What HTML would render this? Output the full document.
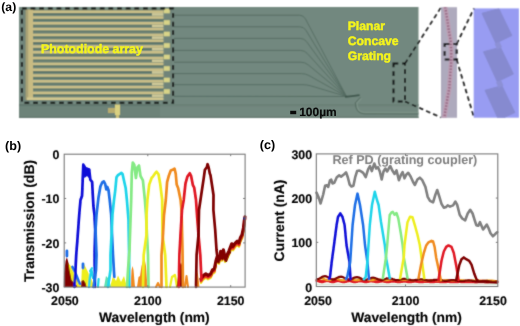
<!DOCTYPE html>
<html><head><meta charset="utf-8"><title>Figure</title>
<style>
html,body{margin:0;padding:0;background:#fff;}
body{width:520px;height:326px;overflow:hidden;}
svg{display:block;font-family:'Liberation Sans', Arial, sans-serif;text-rendering:geometricPrecision;}
</style></head>
<body><svg width="520" height="326" viewBox="0 0 520 326">
<defs><filter id="blm" x="-2%" y="-2%" width="104%" height="104%"><feConvolveMatrix order="3" kernelMatrix="0.04 0.12 0.04 0.12 0.36 0.12 0.04 0.12 0.04" edgeMode="none"/></filter><filter id="blp" x="-2%" y="-2%" width="104%" height="104%"><feConvolveMatrix order="3" kernelMatrix="0.02 0.08 0.02 0.08 0.6 0.08 0.02 0.08 0.02" edgeMode="none"/></filter></defs><rect width="520" height="326" fill="#fff"/>
<g filter="url(#blm)"><rect x="19" y="7" width="399.5" height="111" fill="#72887f"/><rect x="19" y="104" width="141" height="2.4" fill="#62776d"/><rect x="19" y="106.4" width="141" height="11" fill="#6d8379"/><rect x="160" y="104" width="258.5" height="2.4" fill="#6b8177"/><rect x="19" y="116.8" width="399.5" height="1.2" fill="#63776d"/><rect x="23" y="9.5" width="149" height="92" fill="#6f8479"/><rect x="25.6" y="9.5" width="2.6" height="90.5" fill="#a8a174"/><rect x="28.1" y="9.5" width="5" height="90.5" fill="#c8bb82"/><rect x="33" y="9.5" width="130.5" height="90" fill="#6a8274"/><rect x="33" y="13.00" width="130.5" height="2.1" fill="#5e776a"/><rect x="33" y="15.10" width="130.5" height="1.1" fill="#71877b"/><rect x="33" y="10.40" width="130.5" height="2.6" fill="#cbbf88"/><rect x="152" y="13.10" width="11.5" height="2.6" fill="#cfc999"/><rect x="33" y="18.80" width="130.5" height="2.1" fill="#5e776a"/><rect x="33" y="20.90" width="130.5" height="1.1" fill="#71877b"/><rect x="33" y="16.20" width="130.5" height="2.6" fill="#cbbf88"/><rect x="33" y="24.60" width="130.5" height="2.1" fill="#5e776a"/><rect x="33" y="26.70" width="130.5" height="1.1" fill="#71877b"/><rect x="33" y="22.00" width="130.5" height="2.6" fill="#cbbf88"/><rect x="152" y="24.70" width="11.5" height="2.6" fill="#cfc999"/><rect x="33" y="30.40" width="130.5" height="2.1" fill="#5e776a"/><rect x="33" y="32.50" width="130.5" height="1.1" fill="#71877b"/><rect x="33" y="27.80" width="130.5" height="2.6" fill="#cbbf88"/><rect x="33" y="36.20" width="130.5" height="2.1" fill="#5e776a"/><rect x="33" y="38.30" width="130.5" height="1.1" fill="#71877b"/><rect x="33" y="33.60" width="130.5" height="2.6" fill="#cbbf88"/><rect x="152" y="36.30" width="11.5" height="2.6" fill="#cfc999"/><rect x="33" y="42.00" width="130.5" height="2.1" fill="#5e776a"/><rect x="33" y="44.10" width="130.5" height="1.1" fill="#71877b"/><rect x="33" y="39.40" width="130.5" height="2.6" fill="#cbbf88"/><rect x="33" y="47.80" width="130.5" height="2.1" fill="#5e776a"/><rect x="33" y="49.90" width="130.5" height="1.1" fill="#71877b"/><rect x="33" y="45.20" width="130.5" height="2.6" fill="#cbbf88"/><rect x="152" y="47.90" width="11.5" height="2.6" fill="#cfc999"/><rect x="33" y="53.60" width="130.5" height="2.1" fill="#5e776a"/><rect x="33" y="55.70" width="130.5" height="1.1" fill="#71877b"/><rect x="33" y="51.00" width="130.5" height="2.6" fill="#cbbf88"/><rect x="33" y="59.40" width="130.5" height="2.1" fill="#5e776a"/><rect x="33" y="61.50" width="130.5" height="1.1" fill="#71877b"/><rect x="33" y="56.80" width="130.5" height="2.6" fill="#cbbf88"/><rect x="152" y="59.50" width="11.5" height="2.6" fill="#cfc999"/><rect x="33" y="65.20" width="130.5" height="2.1" fill="#5e776a"/><rect x="33" y="67.30" width="130.5" height="1.1" fill="#71877b"/><rect x="33" y="62.60" width="130.5" height="2.6" fill="#cbbf88"/><rect x="33" y="71.00" width="130.5" height="2.1" fill="#5e776a"/><rect x="33" y="73.10" width="130.5" height="1.1" fill="#71877b"/><rect x="33" y="68.40" width="130.5" height="2.6" fill="#cbbf88"/><rect x="152" y="71.10" width="11.5" height="2.6" fill="#cfc999"/><rect x="33" y="76.80" width="130.5" height="2.1" fill="#5e776a"/><rect x="33" y="78.90" width="130.5" height="1.1" fill="#71877b"/><rect x="33" y="74.20" width="130.5" height="2.6" fill="#cbbf88"/><rect x="33" y="82.60" width="130.5" height="2.1" fill="#5e776a"/><rect x="33" y="84.70" width="130.5" height="1.1" fill="#71877b"/><rect x="33" y="80.00" width="130.5" height="2.6" fill="#cbbf88"/><rect x="152" y="82.70" width="11.5" height="2.6" fill="#cfc999"/><rect x="33" y="88.40" width="130.5" height="2.1" fill="#5e776a"/><rect x="33" y="90.50" width="130.5" height="1.1" fill="#71877b"/><rect x="33" y="85.80" width="130.5" height="2.6" fill="#cbbf88"/><rect x="33" y="94.20" width="130.5" height="2.1" fill="#5e776a"/><rect x="33" y="96.30" width="130.5" height="1.1" fill="#71877b"/><rect x="33" y="91.60" width="130.5" height="2.6" fill="#cbbf88"/><rect x="152" y="94.30" width="11.5" height="2.6" fill="#cfc999"/><rect x="27" y="97.40" width="136.5" height="2.6" fill="#d2c890"/><rect x="163.8" y="8.70" width="6" height="4.6" fill="#d8d488"/><rect x="163.8" y="20.20" width="6" height="4.6" fill="#d8d488"/><rect x="163.8" y="31.70" width="6" height="4.6" fill="#d8d488"/><rect x="163.8" y="43.20" width="6" height="4.6" fill="#d8d488"/><rect x="163.8" y="54.70" width="6" height="4.6" fill="#d8d488"/><rect x="163.8" y="66.20" width="6" height="4.6" fill="#d8d488"/><rect x="163.8" y="77.70" width="6" height="4.6" fill="#d8d488"/><rect x="163.8" y="89.20" width="6" height="4.6" fill="#d8d488"/><rect x="108" y="108" width="7" height="5" fill="#b8ac6e"/><rect x="115" y="104.5" width="5" height="10.5" fill="#d9d080"/><rect x="116" y="115" width="3" height="3" fill="#c9bf78"/><path d="M174 15.2 L299.5 15.2 Q303.5 15.2 305.37 18.74 L346.5 96.5" stroke="#526a60" stroke-width="0.9" fill="none"/><path d="M174 26.8 L299.8 26.8 Q303.8 26.8 305.89 30.21 L346.5 96.5" stroke="#526a60" stroke-width="0.9" fill="none"/><path d="M174 38.4 L300.2 38.4 Q304.2 38.4 306.55 41.63 L346.5 96.5" stroke="#526a60" stroke-width="0.9" fill="none"/><path d="M174 50.4 L300.5 50.4 Q304.5 50.4 307.19 53.36 L346.5 96.5" stroke="#526a60" stroke-width="0.9" fill="none"/><path d="M174 62.2 L301 62.2 Q305 62.2 308.08 64.75 L346.5 96.5" stroke="#526a60" stroke-width="0.9" fill="none"/><path d="M174 73.6 L301.5 73.6 Q305.5 73.6 308.99 75.55 L346.5 96.5" stroke="#526a60" stroke-width="0.9" fill="none"/><path d="M174 84.7 L303 84.7 Q307 84.7 310.83 85.84 L346.5 96.5" stroke="#526a60" stroke-width="0.9" fill="none"/><path d="M174 96.3 L346.5 96.5" stroke="#526a60" stroke-width="0.9" fill="none"/><path d="M345 96.8 Q352 96.5 359.6 95.2" stroke="#3b5248" stroke-width="1.8" fill="none"/><path d="M360.4 97.2 L355.3 102.8 Q355.6 108.5 357.5 110.8 Q359.5 113.3 364 113.8 L418.5 113.9" stroke="#53695e" stroke-width="1" fill="none"/><path d="M361.5 98.6 L357 103.3 Q357.2 108 358.8 110 Q360.5 112.2 364.5 112.6 L418.5 112.7" stroke="#849a8e" stroke-width="0.8" fill="none"/><rect x="21.9" y="8.5" width="151.2" height="94.2" stroke="#0a0a0a" stroke-width="2" fill="none" stroke-dasharray="4.8 3.85"/><rect x="393.5" y="63.5" width="11.5" height="38" stroke="#0a0a0a" stroke-width="2" fill="none" stroke-dasharray="4.8 3.85" stroke-dasharray="4.5 3.5"/><rect x="441" y="7.2" width="16" height="110.6" fill="#aeaabd"/><clipPath id="sc"><rect x="441" y="7.2" width="16" height="110.6"/></clipPath><g clip-path="url(#sc)"><polyline points="445.2,7.0 447.0,18.0 449.0,31.6 450.5,40.0 451.2,50.0 451.2,62.0 450.2,75.0 449.3,88.0 446.3,105.0 444.3,117.5" fill="none" stroke="#bc9fb4" stroke-width="4.8" stroke-linejoin="round" stroke-linecap="round" /><polyline points="445.2,7.0 447,18 449,31.6 450.5,40 451.2,50 451.2,62 450.2,75 449.3,88 446.3,105 444.3,117.5" fill="none" stroke="#93637f" stroke-width="2.4" stroke-dasharray="1.4 1.7"/></g><rect x="444.6" y="44" width="12" height="15.5" stroke="#0a0a0a" stroke-width="2" fill="none" stroke-dasharray="4.8 3.85" stroke-dasharray="4 3"/><rect x="473.7" y="8.4" width="45.2" height="109.3" fill="#989cf2"/><clipPath id="bc"><rect x="473.7" y="8.4" width="45.2" height="109.3"/></clipPath><g clip-path="url(#bc)" fill="#8487cc"><polygon points="482.0,13.3 498.9,8.7 511.9,35.5 495.8,43.2" fill="#868ad0" stroke="#868ad0" stroke-width="1" stroke-linejoin="round"/><polygon points="483.5,51.8 500.4,47.2 513.4,74.0 497.3,81.7" fill="#868ad0" stroke="#868ad0" stroke-width="1" stroke-linejoin="round"/><polygon points="485.0,90.3 501.9,85.7 514.9,112.5 498.8,120.2" fill="#868ad0" stroke="#868ad0" stroke-width="1" stroke-linejoin="round"/><polygon points="494.5,43.8 499.5,41.5 502.0,47.0 497.0,49.5" fill="#8c90d6" /><polygon points="496.0,82.3 501.0,80.0 503.5,85.5 498.5,88.0" fill="#8c90d6" /></g><line x1="405" y1="63.5" x2="441" y2="7.5" stroke="#0a0a0a" stroke-width="1.6" stroke-dasharray="4.5 3.2" fill="none"/><line x1="405" y1="101.5" x2="441" y2="117.5" stroke="#0a0a0a" stroke-width="1.6" stroke-dasharray="4.5 3.2" fill="none"/><line x1="456.6" y1="44" x2="474" y2="8.5" stroke="#0a0a0a" stroke-width="1.6" stroke-dasharray="4.5 3.2" fill="none"/><line x1="456.6" y1="59.5" x2="474" y2="117.5" stroke="#0a0a0a" stroke-width="1.6" stroke-dasharray="4.5 3.2" fill="none"/></g><text x="41.0" y="52.8" font-size="12.4" fill="#f4f41c" text-anchor="start" font-weight="bold" stroke="#f4f41c" stroke-width="0.45">Photodiode array</text><text x="347.7" y="29.9" font-size="12.2" fill="#f4f41c" text-anchor="start" font-weight="bold" stroke="#f4f41c" stroke-width="0.45">Planar</text><text x="347.7" y="45" font-size="12.2" fill="#f4f41c" text-anchor="start" font-weight="bold" stroke="#f4f41c" stroke-width="0.45">Concave</text><text x="347.7" y="59.7" font-size="12.2" fill="#f4f41c" text-anchor="start" font-weight="bold" stroke="#f4f41c" stroke-width="0.45">Grating</text><rect x="290.2" y="110.8" width="6" height="3.4" fill="#0a0a0a"/><text x="299.2" y="115.6" font-size="12" fill="#0a0a0a" text-anchor="start" font-weight="bold" stroke="#0a0a0a" stroke-width="0.15">100µm</text><text x="1.3" y="11.4" font-size="12.2" fill="#000" text-anchor="start" font-weight="bold">(a)</text><text x="5.0" y="149.8" font-size="12.6" fill="#000" text-anchor="start" font-weight="bold">(b)</text><text x="259.8" y="149.4" font-size="12.6" fill="#000" text-anchor="start" font-weight="bold">(c)</text><g filter="url(#blp)"><text x="59.4" y="158.9" font-size="12.4" fill="#000" text-anchor="end" font-weight="bold" stroke="#000" stroke-width="0.15">0</text><text x="59.4" y="203.35" font-size="12.4" fill="#000" text-anchor="end" font-weight="bold" stroke="#000" stroke-width="0.15">-10</text><text x="59.4" y="247.8" font-size="12.4" fill="#000" text-anchor="end" font-weight="bold" stroke="#000" stroke-width="0.15">-20</text><text x="59.4" y="292.25" font-size="12.4" fill="#000" text-anchor="end" font-weight="bold" stroke="#000" stroke-width="0.15">-30</text><text x="64.9" y="305.1" font-size="12.4" fill="#000" text-anchor="middle" font-weight="bold" stroke="#000" stroke-width="0.15">2050</text><text x="147.8" y="305.1" font-size="12.4" fill="#000" text-anchor="middle" font-weight="bold" stroke="#000" stroke-width="0.15">2100</text><text x="230.7" y="305.1" font-size="12.4" fill="#000" text-anchor="middle" font-weight="bold" stroke="#000" stroke-width="0.15">2150</text><text x="154.4" y="321.6" font-size="13.8" fill="#000" text-anchor="middle" font-weight="bold" stroke="#000" stroke-width="0.15">Wavelength (nm)</text><text x="0" y="0" font-size="14.0" fill="#000" text-anchor="middle" font-weight="bold" stroke="#000" stroke-width="0.15" transform="translate(33.8 220.9) rotate(-90)">Transmission (dB)</text><polygon points="66.0,287.0 68.0,263.0 71.0,266.0 74.0,272.0 77.0,278.0 80.0,283.0 82.0,287.0" fill="#eeee1e" /><polygon points="81.0,287.0 82.0,266.0 84.0,264.0 86.0,268.0 89.0,274.0 92.0,280.0 94.0,287.0" fill="#eeee1e" /><polygon points="110.0,287.0 113.0,276.0 116.0,281.0 118.0,275.5 121.0,282.0 124.0,276.0 127.0,287.0" fill="#eeee1e" /><polygon points="104.0,287.0 106.0,276.0 109.0,279.0 111.0,287.0" fill="#5ee0b0" /><polyline points="89.0,287.0 90.0,276.0 91.4,270.0 93.0,278.0" fill="none" stroke="#1ed4ea" stroke-width="2.4" stroke-linejoin="round" stroke-linecap="round" /><polyline points="98.0,287.0 98.6,279.0" fill="none" stroke="#1ed4ea" stroke-width="2.2" stroke-linejoin="round" stroke-linecap="round" /><polyline points="90.0,271.0 92.0,268.0" fill="none" stroke="#1ed4ea" stroke-width="2" stroke-linejoin="round" stroke-linecap="round" /><polygon points="63.8,287.0 64.0,274.0 65.5,261.0 66.9,257.0 68.5,263.0 69.5,270.0 71.5,279.9 74.0,283.0 76.1,284.5 77.5,287.0" fill="#820000" /><polygon points="81.0,287.0 81.5,281.0 83.5,280.0 85.5,283.0 86.5,287.0" fill="#820000" /><polygon points="131.0,287.0 131.5,283.0 133.0,282.5 134.5,287.0" fill="#820000" /><polyline points="66.9,251.0 66.9,256.0" fill="none" stroke="#1a6ee6" stroke-width="2.8" stroke-linejoin="round" stroke-linecap="round" /><polyline points="83.0,263.8 83.0,268.0" fill="none" stroke="#1a6ee6" stroke-width="2.8" stroke-linejoin="round" stroke-linecap="round" /><polyline points="72.3,266.8 75.0,272.0 78.4,280.6 80.0,284.0" fill="none" stroke="#1a6ee6" stroke-width="2.6" stroke-linejoin="round" stroke-linecap="round" /><polygon points="130.5,287.0 131.5,270.0 132.5,266.0 133.5,270.0 135.0,287.0" fill="#f08a1e" /><polygon points="137.0,287.0 138.5,277.0 140.0,276.0 141.5,266.0 144.2,256.8 146.0,266.0 147.5,287.0" fill="#f08a1e" /><polyline points="156.0,287.0 158.0,283.0 160.0,287.0" fill="none" stroke="#f08a1e" stroke-width="2" stroke-linejoin="round" stroke-linecap="round" /><polyline points="170.0,287.0 172.0,277.0 175.0,275.0 177.0,287.0" fill="none" stroke="#eeee1e" stroke-width="2.2" stroke-linejoin="round" stroke-linecap="round" /><polygon points="176.5,287.0 179.5,266.0 181.0,262.3 183.0,268.0 184.5,287.0" fill="#820000" /><polyline points="185.0,287.0 186.5,276.0 188.0,287.0" fill="none" stroke="#f08a1e" stroke-width="2" stroke-linejoin="round" stroke-linecap="round" /><polygon points="195.5,287.0 197.5,270.0 199.5,287.0" fill="#f08a1e" /><polyline points="200.9,282.8 203.0,279.8 205.8,277.8 208.0,279.3 210.7,277.8 212.5,273.8 214.4,272.8 216.0,264.8 217.2,260.8 219.0,263.8 220.7,255.3 222.0,260.8 223.4,253.8 225.0,261.8 227.1,259.0 229.0,254.8 231.7,247.8 233.0,250.3 235.0,247.3 237.2,245.2 239.0,246.8 240.5,241.5 242.0,238.8 243.5,231.8 244.3,224.8 245.0,220.8" fill="none" stroke="#eeee1e" stroke-width="2.2" stroke-linejoin="round" stroke-linecap="round" /><polyline points="200.9,281.8 203.0,278.8 205.8,276.8 208.0,278.3 210.7,276.8 212.5,272.8 214.4,271.8 216.0,263.8 217.2,259.8 219.0,262.8 220.7,254.3 222.0,259.8 223.4,252.8 225.0,260.8 227.1,258.0 229.0,253.8 231.7,246.8 233.0,249.3 235.0,246.3 237.2,244.2 239.0,245.8 240.5,240.5 242.0,237.8 243.5,230.8 244.3,223.8 245.0,219.8" fill="none" stroke="#f08a1e" stroke-width="2.4" stroke-linejoin="round" stroke-linecap="round" /><polyline points="200.9,280.6 203.0,277.6 205.8,275.6 208.0,277.1 210.7,275.6 212.5,271.6 214.4,270.6 216.0,262.6 217.2,258.6 219.0,261.6 220.7,253.1 222.0,258.6 223.4,251.6 225.0,259.6 227.1,256.8 229.0,252.6 231.7,245.6 233.0,248.1 235.0,245.1 237.2,243.0 239.0,244.6 240.5,239.3 242.0,236.6 243.5,229.6 244.3,222.6 245.0,218.6" fill="none" stroke="#e01420" stroke-width="2.6" stroke-linejoin="round" stroke-linecap="round" /><polyline points="200.9,278.8 203.0,275.8 205.8,273.8 208.0,275.3 210.7,273.8 212.5,269.8 214.4,268.8 216.0,260.8 217.2,256.8 219.0,259.8 220.7,251.3 222.0,256.8 223.4,249.8 225.0,257.8 227.1,255.0 229.0,250.8 231.7,243.8 233.0,246.3 235.0,243.3 237.2,241.2 239.0,242.8 240.5,237.5 242.0,234.8 243.5,227.8 244.3,220.8 245.0,216.8" fill="none" stroke="#820000" stroke-width="3.2" stroke-linejoin="round" stroke-linecap="round" /><polyline points="216.5,262.0 218.0,256.0 219.5,260.0 221.0,254.0 222.5,259.0 224.0,256.0 226.0,261.0 228.0,255.0 230.0,252.0" fill="none" stroke="#820000" stroke-width="2.4" stroke-linejoin="round" stroke-linecap="round" /><polyline points="74.5,287.0 75.5,270.0 76.2,255.0 77.4,240.0 79.2,215.0 80.5,200.0 82.0,196.0 82.3,190.0 83.3,164.7 85.5,168.4 89.2,169.5 90.3,179.7 92.1,181.8 93.4,206.0 94.5,215.0 95.2,230.0 94.6,255.0 95.0,287.0" fill="none" stroke="#0a0ad8" stroke-width="2.7" stroke-linejoin="round" stroke-linecap="round" /><polyline points="93.5,287.0 96.0,270.0 96.5,255.0 95.5,230.0 96.5,214.6 98.5,197.4 100.4,186.5 102.3,182.3 103.8,181.3 105.2,184.0 106.3,189.5 107.3,187.0 108.5,190.0 109.7,200.0 111.2,214.6 111.8,230.0 113.0,255.0 114.3,277.0" fill="none" stroke="#1a6ee6" stroke-width="2.7" stroke-linejoin="round" stroke-linecap="round" /><polyline points="108.0,287.0 110.5,270.0 110.5,255.0 111.8,230.0 112.5,214.0 114.0,200.0 115.2,190.8 116.5,177.2 117.7,175.4 121.4,172.9 122.6,174.2 123.8,179.7 125.7,188.3 126.9,200.0 128.5,220.0 129.0,250.0 129.5,287.0" fill="none" stroke="#1ed4ea" stroke-width="2.7" stroke-linejoin="round" stroke-linecap="round" /><polyline points="127.0,287.0 128.0,270.0 129.5,250.0 131.2,200.0 131.8,172.3 132.8,162.5 134.3,165.0 135.9,178.0 137.4,167.4 139.0,165.5 140.5,176.0 142.9,180.3 144.9,200.0 146.0,215.0 147.0,235.0 148.0,255.0 148.5,287.0" fill="none" stroke="#84ea84" stroke-width="2.7" stroke-linejoin="round" stroke-linecap="round" /><polyline points="143.0,287.0 143.7,255.0 146.5,235.0 146.5,215.0 147.4,200.0 149.2,184.6 151.7,177.8 152.9,176.6 155.4,172.9 156.6,171.7 158.5,174.2 160.3,184.6 162.2,200.0 162.5,235.0 165.2,255.0 166.5,287.0" fill="none" stroke="#eeee1e" stroke-width="2.7" stroke-linejoin="round" stroke-linecap="round" /><polyline points="161.5,287.0 161.5,255.0 163.0,235.0 164.0,215.0 165.8,200.0 167.1,182.2 168.9,175.4 170.8,170.5 172.6,169.8 174.5,168.6 175.7,173.5 176.7,184.6 178.2,188.3 180.6,200.0 181.5,210.0 182.5,250.0 183.0,287.0" fill="none" stroke="#f08a1e" stroke-width="2.7" stroke-linejoin="round" stroke-linecap="round" /><polyline points="178.8,287.0 179.4,255.0 180.5,235.0 182.0,210.0 183.7,200.0 185.5,183.4 187.4,176.6 189.8,173.3 191.1,176.0 192.9,185.2 194.2,187.7 196.0,200.0 197.0,215.0 198.5,235.0 200.3,255.0 201.0,270.0 201.5,280.0" fill="none" stroke="#e01420" stroke-width="2.7" stroke-linejoin="round" stroke-linecap="round" /><polyline points="196.0,287.0 196.6,255.0 198.5,235.0 199.0,210.0 201.2,195.0 203.7,178.4 204.9,169.8 206.8,167.3 207.6,164.2 208.6,167.3 209.8,173.5 210.5,175.3 212.3,187.0 213.5,195.0 213.4,210.0 215.2,230.0 216.5,250.0 217.5,258.0 218.5,262.0" fill="none" stroke="#7e0202" stroke-width="2.7" stroke-linejoin="round" stroke-linecap="round" /><polygon points="83.0,165.0 85.0,167.0 89.0,168.5 90.0,172.0 90.0,179.0 87.0,176.0 84.5,178.0 83.5,175.0" fill="#0a0ad8" /><circle cx="244.3" cy="218.5" r="1.2" fill="#1a1a80"/><rect x="64.2" y="154.2" width="180.89999999999998" height="132.90000000000003" fill="none" stroke="#7a7a7a" stroke-width="1.1"/><line x1="64.2" y1="198.45" x2="66.2" y2="198.45" stroke="#7a7a7a"/><line x1="245.1" y1="198.45" x2="243.1" y2="198.45" stroke="#7a7a7a"/><line x1="64.2" y1="242.9" x2="66.2" y2="242.9" stroke="#7a7a7a"/><line x1="245.1" y1="242.9" x2="243.1" y2="242.9" stroke="#7a7a7a"/><line x1="147.8" y1="154.2" x2="147.8" y2="156.2" stroke="#7a7a7a"/><line x1="147.8" y1="287.1" x2="147.8" y2="285.1" stroke="#7a7a7a"/><line x1="230.7" y1="154.2" x2="230.7" y2="156.2" stroke="#7a7a7a"/><line x1="230.7" y1="287.1" x2="230.7" y2="285.1" stroke="#7a7a7a"/></g><g filter="url(#blp)"><text x="312.1" y="291.5" font-size="12.4" fill="#000" text-anchor="end" font-weight="bold" stroke="#000" stroke-width="0.15">0</text><text x="312.1" y="247.23000000000005" font-size="12.4" fill="#000" text-anchor="end" font-weight="bold" stroke="#000" stroke-width="0.15">100</text><text x="312.1" y="202.96000000000004" font-size="12.4" fill="#000" text-anchor="end" font-weight="bold" stroke="#000" stroke-width="0.15">200</text><text x="312.1" y="158.69000000000003" font-size="12.4" fill="#000" text-anchor="end" font-weight="bold" stroke="#000" stroke-width="0.15">300</text><text x="318.0" y="305.3" font-size="12.4" fill="#000" text-anchor="middle" font-weight="bold" stroke="#000" stroke-width="0.15">2050</text><text x="405.5" y="305.3" font-size="12.4" fill="#000" text-anchor="middle" font-weight="bold" stroke="#000" stroke-width="0.15">2100</text><text x="493.0" y="305.3" font-size="12.4" fill="#000" text-anchor="middle" font-weight="bold" stroke="#000" stroke-width="0.15">2150</text><text x="406.6" y="321.6" font-size="13.8" fill="#000" text-anchor="middle" font-weight="bold" stroke="#000" stroke-width="0.15">Wavelength (nm)</text><text x="0" y="0" font-size="13.9" fill="#000" text-anchor="middle" font-weight="bold" stroke="#000" stroke-width="0.15" transform="translate(284 220.5) rotate(-90)">Current (nA)</text><text x="332.4" y="163.6" font-size="12.6" fill="#7f7f7f" text-anchor="start" font-weight="bold">Ref PD (grating coupler)</text><polyline points="316.5,192.6 318.5,197.0 320.6,203.5 323.2,194.5 325.1,185.8 326.9,185.2 328.2,187.0 330.0,180.3 331.2,179.7 332.5,183.4 334.3,182.8 336.8,177.2 339.2,175.4 341.1,176.6 343.5,174.8 346.0,172.3 347.8,177.2 349.7,184.6 351.5,186.5 353.4,185.8 355.2,177.2 357.1,171.1 359.5,170.5 361.4,171.7 363.2,172.9 365.7,177.2 368.2,169.2 370.0,166.2 371.8,171.1 374.3,163.5 376.2,168.5 378.0,167.2 379.8,171.5 381.7,179.5 383.5,171.5 385.4,168.5 387.2,171.5 389.1,167.8 390.3,166.0 392.2,170.3 394.6,174.0 396.5,170.3 398.9,180.2 400.8,175.2 402.6,172.2 404.5,178.3 406.3,174.6 408.2,172.8 410.6,176.5 413.1,182.0 414.9,185.0 417.4,179.5 419.8,177.7 422.3,180.2 425.4,186.9 427.7,196.9 430.0,200.8 433.1,202.3 435.4,194.6 437.2,190.0 439.2,196.2 441.5,203.8 443.8,207.7 446.2,206.9 447.7,205.4 450.0,206.6 453.1,205.4 455.4,201.5 457.2,204.9 459.7,214.8 462.2,218.5 465.2,220.3 467.7,213.5 470.2,209.8 472.6,213.5 474.5,219.7 476.3,225.2 478.2,225.8 480.0,222.2 481.8,226.5 483.1,229.5 484.9,227.1 486.8,224.6 488.6,228.3 490.5,233.2 492.9,236.3 495.4,233.8 497.2,232.2" fill="none" stroke="#808080" stroke-width="2.6" stroke-linejoin="round" stroke-linecap="round" /><polyline points="317.0,284.2 497.0,284.2" fill="none" stroke="#b9d0b0" stroke-width="1.0" stroke-linejoin="round" stroke-linecap="round" opacity="0.7"/><polyline points="317.0,280.5 318.0,280.7 319.0,281.0 320.0,281.3 321.0,281.5 322.0,281.6 323.0,281.5 324.0,281.2 325.0,280.9 326.0,280.6 327.0,280.5 328.0,280.5 329.0,280.7 330.0,281.1 331.0,281.4 332.0,281.6 333.0,281.6 334.0,281.5 335.0,281.2 336.0,280.9 337.0,280.7 338.0,280.6 339.0,280.6 340.0,280.8 341.0,281.1 342.0,281.4 343.0,281.6 344.0,281.6 345.0,281.5 346.0,281.3 347.0,281.0 348.0,280.8 349.0,280.7 350.0,280.7 351.0,280.9 352.0,281.1 353.0,281.4 354.0,281.6 355.0,281.6 356.0,281.5 357.0,281.3 358.0,281.0 359.0,280.8 360.0,280.7 361.0,280.8 362.0,280.9 363.0,281.2 364.0,281.4 365.0,281.6 366.0,281.6 367.0,281.5 368.0,281.3 369.0,281.1 370.0,280.9 371.0,280.8 372.0,280.9 373.0,281.0 374.0,281.2 375.0,281.4 376.0,281.6 377.0,281.6 378.0,281.5 379.0,281.4 380.0,281.1 381.0,281.0 382.0,280.9 383.0,280.9 384.0,281.1 385.0,281.3 386.0,281.5 387.0,281.6 388.0,281.6 389.0,281.5 390.0,281.4 391.0,281.2 392.0,281.1 393.0,281.0 394.0,281.0 395.0,281.1 396.0,281.3 397.0,281.5 398.0,281.6 399.0,281.6 400.0,281.6 401.0,281.4 402.0,281.3 403.0,281.1 404.0,281.1 405.0,281.1 406.0,281.2 407.0,281.4 408.0,281.5 409.0,281.6 410.0,281.6 411.0,281.6 412.0,281.4 413.0,281.3 414.0,281.2 415.0,281.2 416.0,281.2 417.0,281.3 418.0,281.4 419.0,281.5 420.0,281.6 421.0,281.6 422.0,281.6 423.0,281.5 424.0,281.4 425.0,281.3 426.0,281.2 427.0,281.3 428.0,281.3 429.0,281.4 430.0,281.5 431.0,281.6 432.0,281.6 433.0,281.6 434.0,281.5 435.0,281.4 436.0,281.4 437.0,281.3 438.0,281.3 439.0,281.4 440.0,281.5 441.0,281.6 442.0,281.6 443.0,281.7 444.0,281.6 445.0,281.6 446.0,281.5 447.0,281.4 448.0,281.4 449.0,281.4 450.0,281.5 451.0,281.5 452.0,281.6 453.0,281.7 454.0,281.7 455.0,281.7 456.0,281.6 457.0,281.5 458.0,281.5 459.0,281.4 460.0,281.4 461.0,281.5 462.0,281.6 463.0,281.7 464.0,281.7 465.0,281.7 466.0,281.7 467.0,281.6 468.0,281.6 469.0,281.5 470.0,281.5 471.0,281.5 472.0,281.5 473.0,281.6 474.0,281.7 475.0,281.8 476.0,281.8 477.0,281.8 478.0,281.7 479.0,281.6 480.0,281.5 481.0,281.5 482.0,281.5 483.0,281.6 484.0,281.7 485.0,281.8 486.0,281.8 487.0,281.8 488.0,281.8 489.0,281.7 490.0,281.6 491.0,281.6 492.0,281.6 493.0,281.6 494.0,281.6 495.0,281.7 496.0,281.8 497.0,281.9" fill="none" stroke="#e01420" stroke-width="3.3" stroke-linejoin="round" stroke-linecap="round" /><polyline points="317.0,279.6 318.0,279.3 319.0,279.0 320.0,278.7 321.0,278.6 322.0,278.6 323.0,278.7 324.0,279.0 325.0,279.4 326.0,279.7 327.0,280.0 328.0,280.1 329.0,280.1 330.0,280.0 331.0,279.7 332.0,279.4 333.0,279.1 334.0,278.9 335.0,278.8 336.0,278.8 337.0,278.9 338.0,279.2 339.0,279.5 340.0,279.8 341.0,280.0 342.0,280.2 343.0,280.2 344.0,280.0 345.0,279.8 346.0,279.5 347.0,279.3 348.0,279.0 349.0,278.9 350.0,278.9 351.0,279.1 352.0,279.3 353.0,279.6 354.0,279.9 355.0,280.1 356.0,280.2 357.0,280.2 358.0,280.1 359.0,279.9 360.0,279.6 361.0,279.4 362.0,279.2 363.0,279.1 364.0,279.1 365.0,279.2 366.0,279.5 367.0,279.7 368.0,279.9 369.0,280.1 370.0,280.2 371.0,280.2 372.0,280.2 373.0,280.0 374.0,279.8 375.0,279.5 376.0,279.4 377.0,279.3 378.0,279.3 379.0,279.4 380.0,279.6 381.0,279.8 382.0,280.0 383.0,280.2 384.0,280.3 385.0,280.3 386.0,280.2 387.0,280.1 388.0,279.9 389.0,279.7 390.0,279.5 391.0,279.5 392.0,279.5 393.0,279.6 394.0,279.7 395.0,279.9 396.0,280.1 397.0,280.3 398.0,280.3 399.0,280.3 400.0,280.3 401.0,280.1 402.0,280.0 403.0,279.8 404.0,279.7 405.0,279.7 406.0,279.7 407.0,279.7 408.0,279.9 409.0,280.0 410.0,280.2 411.0,280.3 412.0,280.4 413.0,280.4 414.0,280.3 415.0,280.2 416.0,280.1 417.0,280.0 418.0,279.9 419.0,279.8 420.0,279.8 421.0,279.9 422.0,280.0 423.0,280.1 424.0,280.3 425.0,280.4 426.0,280.4 427.0,280.4 428.0,280.4 429.0,280.3 430.0,280.2 431.0,280.1 432.0,280.0 433.0,280.0 434.0,280.0 435.0,280.1 436.0,280.2 437.0,280.3 438.0,280.4 439.0,280.4 440.0,280.5 441.0,280.5 442.0,280.5 443.0,280.4 444.0,280.3 445.0,280.2 446.0,280.2 447.0,280.1 448.0,280.2 449.0,280.2 450.0,280.3 451.0,280.4 452.0,280.5 453.0,280.5 454.0,280.6 455.0,280.6 456.0,280.6 457.0,280.5 458.0,280.4 459.0,280.3 460.0,280.3 461.0,280.3 462.0,280.3 463.0,280.3 464.0,280.4 465.0,280.5 466.0,280.6 467.0,280.7 468.0,280.7 469.0,280.7 470.0,280.7 471.0,280.6 472.0,280.5 473.0,280.5 474.0,280.4 475.0,280.4 476.0,280.4 477.0,280.4 478.0,280.5 479.0,280.6 480.0,280.7 481.0,280.8 482.0,280.8 483.0,280.8 484.0,280.8 485.0,280.7 486.0,280.7 487.0,280.6 488.0,280.5 489.0,280.5 490.0,280.5 491.0,280.5 492.0,280.6 493.0,280.7 494.0,280.8 495.0,280.9 496.0,280.9 497.0,280.9" fill="none" stroke="#f0a020" stroke-width="2.0" stroke-linejoin="round" stroke-linecap="round" /><polyline points="317.0,279.3 318.0,279.2 319.0,278.8 320.0,278.3 321.0,277.7 322.0,277.1 323.0,276.6 324.0,276.3 325.0,276.2 326.0,276.3 327.0,276.7 328.0,277.2 329.0,277.9 330.0,278.5 331.0,279.0 332.0,279.4 333.0,279.5 334.0,279.4 335.0,279.1 336.0,278.6 337.0,278.0 338.0,277.5 339.0,277.0 340.0,276.8 341.0,276.7 342.0,276.8 343.0,277.2 344.0,277.7 345.0,278.2 346.0,278.8 347.0,279.2 348.0,279.5 349.0,279.7 350.0,279.6 351.0,279.3 352.0,278.9 353.0,278.4 354.0,277.9 355.0,277.5 356.0,277.3 357.0,277.2 358.0,277.3 359.0,277.6 360.0,278.1 361.0,278.6 362.0,279.1 363.0,279.5 364.0,279.7 365.0,279.8 366.0,279.8 367.0,279.5 368.0,279.2 369.0,278.7 370.0,278.3 371.0,278.0 372.0,277.8 373.0,277.7 374.0,277.8 375.0,278.1 376.0,278.5 377.0,278.9 378.0,279.3 379.0,279.7 380.0,279.9 381.0,280.0 382.0,280.0 383.0,279.8 384.0,279.5 385.0,279.1 386.0,278.7 387.0,278.5 388.0,278.3 389.0,278.2 390.0,278.4 391.0,278.6 392.0,278.9 393.0,279.3 394.0,279.6 395.0,279.9 396.0,280.1 397.0,280.2 398.0,280.2 399.0,280.0 400.0,279.7 401.0,279.4 402.0,279.2 403.0,278.9 404.0,278.8 405.0,278.8 406.0,278.9 407.0,279.1 408.0,279.3 409.0,279.6 410.0,279.9 411.0,280.2 412.0,280.3 413.0,280.4 414.0,280.4 415.0,280.2 416.0,280.0 417.0,279.8 418.0,279.6 419.0,279.4 420.0,279.3 421.0,279.3 422.0,279.4 423.0,279.5 424.0,279.7 425.0,280.0 426.0,280.2 427.0,280.4 428.0,280.5 429.0,280.6 430.0,280.5 431.0,280.5 432.0,280.3 433.0,280.2 434.0,280.0 435.0,279.9 436.0,279.8 437.0,279.8 438.0,279.9 439.0,280.0 440.0,280.1 441.0,280.3 442.0,280.5 443.0,280.7 444.0,280.8 445.0,280.8 446.0,280.8 447.0,280.8 448.0,280.6 449.0,280.5 450.0,280.4 451.0,280.2 452.0,280.2 453.0,280.2 454.0,280.2 455.0,280.3 456.0,280.5 457.0,280.7 458.0,280.9 459.0,281.0 460.0,281.1 461.0,281.2 462.0,281.2 463.0,281.1 464.0,281.0 465.0,280.9 466.0,280.7 467.0,280.6 468.0,280.5 469.0,280.5 470.0,280.6 471.0,280.7 472.0,280.8 473.0,281.0 474.0,281.2 475.0,281.4 476.0,281.5 477.0,281.5 478.0,281.5 479.0,281.5 480.0,281.3 481.0,281.2 482.0,281.1 483.0,281.0 484.0,280.9 485.0,280.9 486.0,280.9 487.0,281.0 488.0,281.2 489.0,281.4 490.0,281.6 491.0,281.7 492.0,281.8 493.0,281.9 494.0,281.9 495.0,281.8 496.0,281.7 497.0,281.6" fill="none" stroke="#7e0202" stroke-width="2.3" stroke-linejoin="round" stroke-linecap="round" /><polyline points="329.0,279.0 330.0,277.0 331.7,262.0 334.0,245.0 336.6,225.0 338.0,217.0 340.3,213.3 342.5,217.0 344.6,225.0 346.5,245.0 349.5,262.0 350.5,279.0" fill="none" stroke="#0a0ad8" stroke-width="2.5" stroke-linejoin="round" stroke-linecap="round" /><polyline points="346.0,279.0 347.2,277.0 350.2,262.0 352.6,225.0 355.0,205.0 357.5,193.6 360.0,205.0 363.1,225.0 365.0,245.0 367.4,262.0 369.0,279.0" fill="none" stroke="#1a6ee6" stroke-width="2.5" stroke-linejoin="round" stroke-linecap="round" /><polyline points="364.0,279.0 365.7,277.0 367.4,262.0 369.8,225.0 372.0,205.0 374.8,191.8 377.0,200.0 378.6,205.0 381.0,222.0 384.8,245.0 386.0,257.3 389.7,278.0" fill="none" stroke="#1ed4ea" stroke-width="2.5" stroke-linejoin="round" stroke-linecap="round" /><polyline points="382.9,278.0 386.0,257.3 387.2,245.0 389.7,215.0 391.5,212.4 392.8,211.8 394.6,214.8 396.5,213.0 398.3,218.5 400.8,233.3 402.6,245.0 403.8,257.3 407.5,278.0" fill="none" stroke="#84ea84" stroke-width="2.5" stroke-linejoin="round" stroke-linecap="round" /><polyline points="400.2,278.0 403.8,257.3 404.5,245.0 407.5,222.2 410.0,216.7 412.5,217.3 414.9,225.3 417.4,234.5 419.8,245.0 424.2,278.0" fill="none" stroke="#eeee1e" stroke-width="2.5" stroke-linejoin="round" stroke-linecap="round" /><polyline points="418.6,278.0 421.0,265.0 423.8,253.0 426.2,245.4 428.5,242.3 431.5,240.8 433.1,241.5 434.6,246.9 436.2,257.7 438.5,268.5 440.8,280.0" fill="none" stroke="#f08a1e" stroke-width="2.5" stroke-linejoin="round" stroke-linecap="round" /><polyline points="438.5,280.0 441.5,260.8 443.8,251.5 446.2,246.9 448.5,245.4 451.5,246.9 453.8,253.0 456.2,265.4 458.5,280.0" fill="none" stroke="#e01420" stroke-width="2.5" stroke-linejoin="round" stroke-linecap="round" /><polyline points="456.2,280.0 459.2,265.4 461.5,259.2 463.8,257.4 466.2,259.2 469.2,260.8 471.5,264.6 474.2,273.5 476.6,279.6 479.1,281.5 497.0,282.5" fill="none" stroke="#7e0202" stroke-width="2.5" stroke-linejoin="round" stroke-linecap="round" /><rect x="316.3" y="153.9" width="181.5" height="132.6" fill="none" stroke="#7a7a7a" stroke-width="1.1"/><line x1="316.3" y1="242.33000000000004" x2="318.3" y2="242.33000000000004" stroke="#7a7a7a"/><line x1="497.8" y1="242.33000000000004" x2="495.8" y2="242.33000000000004" stroke="#7a7a7a"/><line x1="316.3" y1="198.06000000000003" x2="318.3" y2="198.06000000000003" stroke="#7a7a7a"/><line x1="497.8" y1="198.06000000000003" x2="495.8" y2="198.06000000000003" stroke="#7a7a7a"/><line x1="405.5" y1="153.9" x2="405.5" y2="155.9" stroke="#7a7a7a"/><line x1="405.5" y1="286.5" x2="405.5" y2="284.5" stroke="#7a7a7a"/></g>
</svg></body></html>
